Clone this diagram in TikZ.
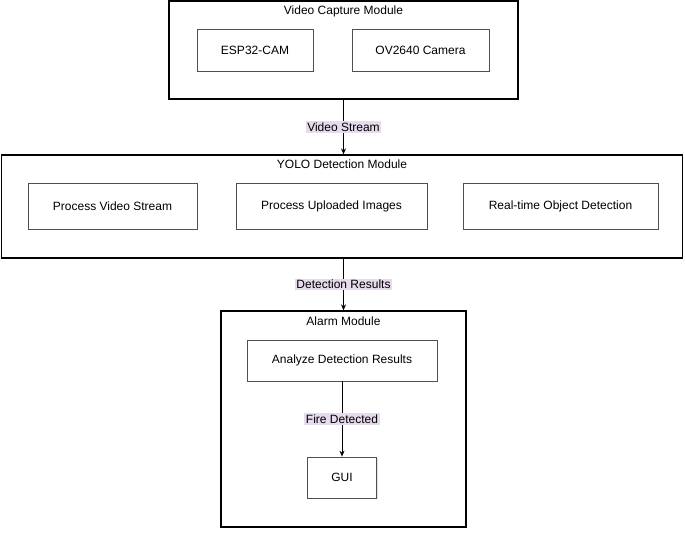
\documentclass[tikz,border=0pt]{standalone}
\usepackage{fontspec}
\setmainfont{Liberation Sans}
\usetikzlibrary{arrows.meta,shadows}
\definecolor{lbl}{RGB}{230,218,236}
\definecolor{inner}{RGB}{80,80,80}
\tikzset{
  outerbox/.style={draw=black,line width=1.3pt,fill=white,inner sep=0pt},
  innerbox/.style={draw=inner,line width=0.7pt,fill=white,inner sep=0pt,
    drop shadow={shadow xshift=1pt,shadow yshift=-1pt,opacity=0.25}},
  txt/.style={font=\fontsize{12}{14}\selectfont},
  title/.style={font=\fontsize{12}{14}\selectfont,inner sep=0pt},
  edgelbl/.style={font=\fontsize{12}{14}\selectfont,fill=lbl,inner sep=1.5pt},
  arr/.style={draw=black,line width=0.9pt,-{Stealth[length=6pt,width=5pt]}}
}
\begin{document}
\begin{tikzpicture}[x=1pt,y=-1pt]
\useasboundingbox (0,0) rectangle (685,533);
% Video capture module
\node[outerbox,minimum width=349pt,minimum height=98pt] (vcm) at (343.5,50) {};
\node[title] (vcmt) at (343.5,11) {Video Capture Module};
\node[innerbox,txt,minimum width=116pt,minimum height=42pt] (esp) at (255,50) {ESP32-CAM};
\node[innerbox,txt,minimum width=137pt,minimum height=42pt] (ov) at (420.5,50) {OV2640 Camera};
% YOLO module
\node[outerbox,minimum width=681pt,minimum height=103pt] (yolo) at (342,206.5) {};
\node[title] (yolot) at (342,164) {YOLO Detection Module};
\node[innerbox,txt,minimum width=169pt,minimum height=46pt] (pvs) at (112.5,206) {Process Video Stream};
\node[innerbox,txt,minimum width=191pt,minimum height=46pt] (pui) at (331.5,206) {Process Uploaded Images};
\node[innerbox,txt,minimum width=195pt,minimum height=46pt] (rtod) at (560.5,206) {Real-time Object Detection};
% Alarm module
\node[outerbox,minimum width=245pt,minimum height=216pt] (alarm) at (343.5,419) {};
\node[title] (alarmt) at (343.5,321) {Alarm Module};
\node[innerbox,txt,minimum width=190pt,minimum height=41pt] (adr) at (342,360.5) {Analyze Detection Results};
\node[innerbox,txt,minimum width=69pt,minimum height=41pt] (gui) at (342,477.5) {GUI};
% connectors
\draw[arr] (vcm.south) -- node[edgelbl] {Video Stream} (vcm.south |- yolo.north);
\draw[arr] (yolo.south -| vcm.south) -- node[edgelbl] {Detection Results} (vcm.south |- alarm.north);
\draw[arr] (adr.south) -- node[edgelbl] {Fire Detected} (gui.north);
\end{tikzpicture}
\end{document}
